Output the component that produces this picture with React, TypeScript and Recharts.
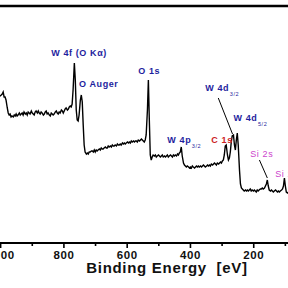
import React from 'react';
import { LineChart, Line, XAxis, YAxis, ReferenceLine, ReferenceDot } from 'recharts';

// Survey XPS spectrum: binding energy (eV) and intensity (a.u.)
const bindingEnergy = [
  1010, 1006, 1002, 998, 995, 992, 989, 986, 983, 979, 976, 973, 970, 967, 964, 960, 957, 954, 951, 948,
  945, 941, 938, 935, 932, 929, 926, 922, 919, 916, 913, 910, 907, 903, 900, 897, 894, 891, 888, 884,
  881, 878, 875, 872, 869, 865, 862, 859, 856, 853, 850, 846, 843, 840, 837, 834, 831, 827, 824, 821,
  818, 815, 812, 808, 805, 802, 799, 796, 793, 789, 786, 783, 780, 777, 774, 771, 767, 764, 761, 758,
  755, 752, 748, 745, 742, 739, 736, 733, 729, 726, 723, 720, 717, 713, 710, 707, 704, 701, 698, 695,
  692, 688, 685, 682, 679, 676, 673, 669, 666, 663, 660, 657, 653, 650, 647, 644, 641, 638, 634, 631,
  628, 625, 622, 619, 615, 612, 609, 606, 603, 599, 596, 593, 590, 587, 584, 580, 577, 574, 571, 568,
  565, 561, 558, 555, 552, 549, 546, 543, 540, 536, 533, 530, 527, 524, 521, 518, 514, 511, 508, 505,
  501, 498, 495, 492, 489, 486, 482, 479, 476, 473, 470, 467, 463, 460, 457, 454, 451, 448, 444, 441,
  438, 435, 432, 429, 426, 422, 419, 416, 413, 410, 406, 403, 400, 397, 394, 391, 387, 384, 381, 378,
  375, 372, 368, 365, 362, 359, 356, 353, 349, 346, 343, 340, 337, 334, 330, 327, 324, 321, 318, 315,
  311, 308, 305, 302, 299, 296, 293, 290, 287, 283, 280, 277, 274, 271, 268, 264, 261, 258, 255, 252,
  249, 245, 242, 239, 236, 233, 230, 226, 223, 220, 217, 214, 211, 208, 205, 201, 198, 195, 192, 189,
  186, 183, 179, 176, 173, 170, 166, 163, 160, 157, 154, 151, 147, 144, 141, 138, 135, 131, 128, 125,
  122, 119, 116, 112, 109, 106, 103, 100, 97, 93, 90, 86, 80,
];

const intensity = [
  146, 147, 147, 148, 149, 151, 146, 146, 143, 135, 130, 128, 129, 126, 127, 126, 128, 127, 129, 127,
  128, 130, 128, 129, 130, 128, 131, 129, 130, 128, 131, 130, 129, 132, 130, 129, 128, 131, 132, 130,
  132, 130, 129, 131, 130, 128, 129, 131, 132, 129, 130, 128, 127, 130, 129, 128, 129, 131, 132, 130,
  129, 131, 130, 133, 132, 130, 132, 134, 135, 133, 134, 136, 137, 136, 139, 153, 180, 163, 133, 123,
  122, 128, 143, 148, 141, 118, 98, 91, 89, 90, 89, 91, 91, 92, 92, 91, 93, 91, 93, 92,
  93, 94, 93, 95, 94, 94, 95, 96, 95, 95, 97, 96, 97, 96, 98, 97, 97, 98, 97, 99,
  98, 98, 99, 98, 100, 99, 100, 99, 100, 101, 100, 101, 100, 102, 101, 102, 101, 102, 102, 101,
  103, 102, 103, 104, 103, 102, 101, 103, 108, 133, 163, 123, 88, 83, 86, 88, 87, 88, 86, 87,
  88, 87, 86, 87, 88, 86, 87, 86, 87, 88, 86, 87, 88, 87, 86, 88, 87, 88, 87, 89,
  88, 90, 91, 96, 87, 80, 78, 77, 76, 77, 76, 75, 76, 75, 77, 76, 75, 76, 77, 76,
  77, 76, 77, 76, 77, 78, 77, 76, 77, 78, 77, 78, 77, 79, 78, 79, 80, 79, 78, 80,
  79, 80, 81, 80, 82, 83, 88, 97, 98, 88, 83, 85, 91, 101, 107, 108, 98, 93, 103, 110,
  98, 73, 59, 55, 54, 53, 52, 53, 52, 53, 52, 53, 54, 52, 53, 52, 53, 52, 51, 53,
  52, 53, 54, 54, 55, 54, 55, 57, 59, 63, 57, 53, 52, 53, 52, 51, 52, 53, 52, 51,
  52, 51, 52, 53, 54, 57, 65, 57, 51, 50, 51, 50, 50,
];

const energyTicks = [100, 200, 300, 400, 500, 600, 700, 800, 900, 1000];

const BLUE = '#1e1e9e';
const RED = '#cc2222';
const MAGENTA = '#cc44cc';

// Peak assignments, anchored in data coordinates (start of text, baseline)
const peakLabels = [
  { text: 'W 4f (O K\u03b1)', sub: '', e: 840, at: 187, color: BLUE, bold: true },
  { text: 'O Auger', sub: '', e: 752, at: 156, color: BLUE, bold: true },
  { text: 'O 1s', sub: '', e: 565, at: 169, color: BLUE, bold: true },
  { text: 'W 4d', sub: '3/2', e: 353, at: 152, color: BLUE, bold: true },
  { text: 'W 4d', sub: '5/2', e: 264, at: 122, color: BLUE, bold: true },
  { text: 'W 4p', sub: '3/2', e: 473, at: 100, color: BLUE, bold: true },
  { text: 'C 1s', sub: '', e: 334, at: 100, color: RED, bold: true },
  { text: 'Si 2s', sub: '', e: 211, at: 86, color: MAGENTA, bold: false },
  { text: 'Si 2p', sub: '', e: 132, at: 66, color: MAGENTA, bold: false },
];

// Leader lines from labels to their peaks
const leaderLines = [
  { from: [312, 145], to: [267, 109] },
  { from: [182, 83], to: [157, 65] },
];

const data = bindingEnergy.map((e, i) => ({ e, counts: intensity[i] }));

const FONT = '"Liberation Sans", Arial, sans-serif';

const EnergyTick = (props: any) => {
  const { x, y, payload } = props;
  const major = payload.value % 200 === 0;
  return (
    <g>
      <line x1={x} x2={x} y1={y} y2={y + (major ? 5 : 3)} stroke="#000" strokeWidth={1.6} />
      {major && (
        <text
          x={x}
          y={y + 16.3}
          textAnchor="middle"
          fontFamily={FONT}
          fontWeight="bold"
          fontSize={11.5}
          letterSpacing={0.6}
          fill="#111"
        >
          {payload.value}
        </text>
      )}
    </g>
  );
};

const AxisTitle = (props: any) => {
  const { viewBox } = props;
  return (
    <text
      x={viewBox.x + viewBox.width / 2 + 24}
      y={viewBox.y + 30}
      textAnchor="middle"
      fontFamily={FONT}
      fontWeight="bold"
      fontSize={15}
      letterSpacing={0.7}
      fill="#111"
      style={{ whiteSpace: 'pre' }}
    >
      {'Binding Energy  [eV]'}
    </text>
  );
};

const makePeakLabel = (lbl: (typeof peakLabels)[number]) => (props: any) => {
  const { viewBox } = props;
  return (
    <text
      x={viewBox.x}
      y={viewBox.y}
      fontFamily={FONT}
      fontWeight={lbl.bold ? 'bold' : 'normal'}
      fontSize={9}
      letterSpacing={0.6}
      fill={lbl.color}
    >
      <tspan>{lbl.text}</tspan>
      {lbl.sub && (
        <tspan fontSize={5.5} fontWeight="normal" dy={4.5} dx={0.5}>
          {lbl.sub}
        </tspan>
      )}
    </text>
  );
};

export default function App() {
  return (
    <div
      style={{
        position: 'fixed',
        left: 0,
        top: 0,
        width: 288,
        height: 288,
        overflow: 'hidden',
        background: '#fff',
      }}
    >
      <div style={{ position: 'absolute', left: -31, top: 0 }}>
        <LineChart width={348} height={288} data={data} margin={{ top: 5, right: 0, bottom: 0, left: 0 }}>
          <XAxis
            dataKey="e"
            type="number"
            domain={[0, 1100]}
            reversed
            allowDataOverflow
            ticks={energyTicks}
            interval={0}
            tickSize={0}
            tickMargin={0}
            tickLine={false}
            tick={<EnergyTick />}
            axisLine={{ stroke: '#000', strokeWidth: 2.2 }}
            height={45}
            label={{ content: (p: any) => <AxisTitle {...p} /> }}
          />
          {/* upper frame of the plot box */}
          <XAxis
            xAxisId="frame"
            orientation="top"
            dataKey="e"
            type="number"
            domain={[0, 1100]}
            reversed
            allowDataOverflow
            tick={false}
            tickLine={false}
            height={1}
            axisLine={{ stroke: '#000', strokeWidth: 2.5 }}
          />
          <YAxis hide type="number" domain={[0, 237]} allowDataOverflow />
          {leaderLines.map((l, i) => (
            <ReferenceLine
              key={`lead-${i}`}
              segment={[
                { x: l.from[0], y: l.from[1] },
                { x: l.to[0], y: l.to[1] },
              ]}
              stroke="#000"
              strokeWidth={1}
              ifOverflow="visible"
            />
          ))}
          <Line
            type="linear"
            dataKey="counts"
            stroke="#000"
            strokeWidth={1.4}
            dot={false}
            isAnimationActive={false}
          />
          {peakLabels.map((lbl, i) => (
            <ReferenceDot
              key={`lbl-${i}`}
              x={lbl.e}
              y={lbl.at}
              r={0}
              fill="none"
              stroke="none"
              ifOverflow="visible"
              label={{ content: makePeakLabel(lbl) }}
            />
          ))}
        </LineChart>
      </div>
    </div>
  );
}
